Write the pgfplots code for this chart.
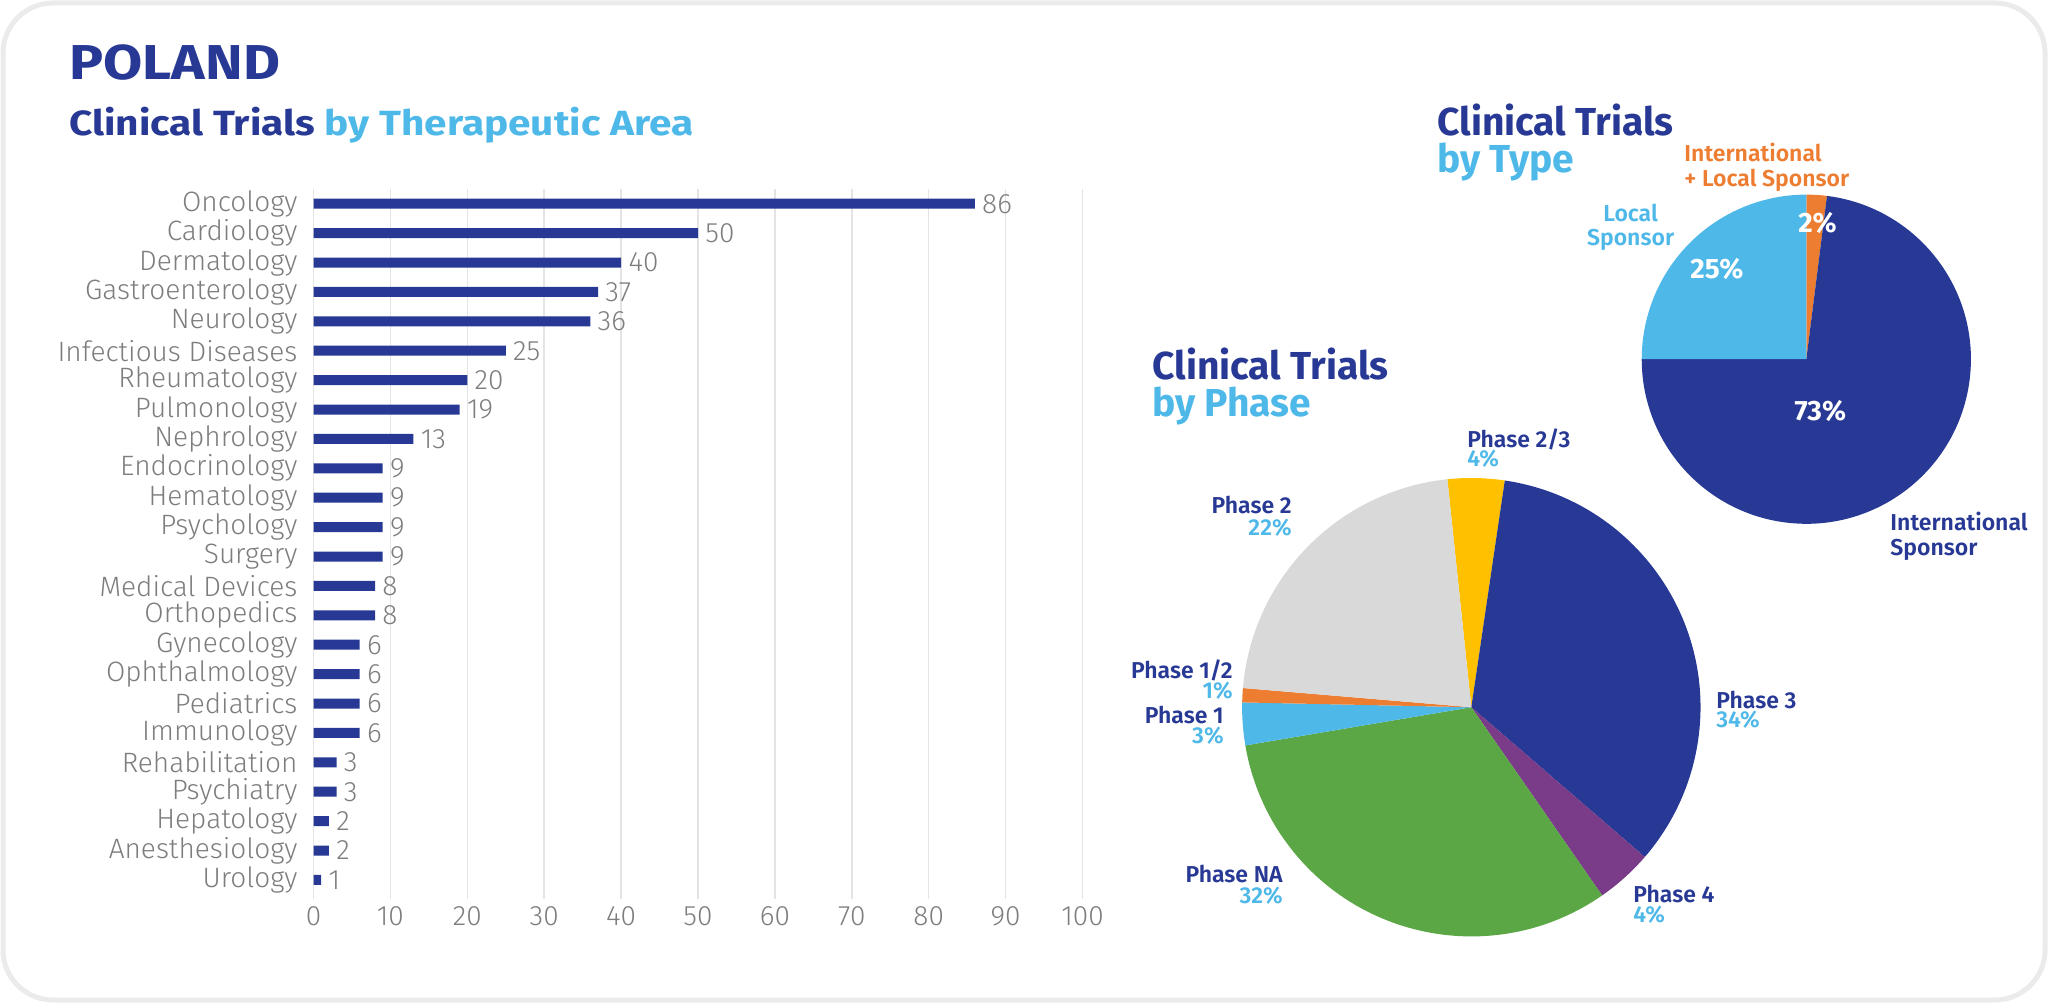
\documentclass[border=0pt]{standalone}
\usepackage{pgfplots}
\usepackage{pgfplotstable}
\pgfplotsset{compat=1.18}
\usepackage{fontspec}
\setmainfont{Fira Sans}
\newfontfamily\lightfont{Fira Sans Light}
\newfontfamily\semibold{Fira Sans SemiBold}
\newfontfamily\titlefont[FakeStretch=1.16]{Fira Sans Bold}
\definecolor{cblue}{RGB}{39,57,148}
\definecolor{clblue}{RGB}{78,184,232}
\definecolor{corange}{RGB}{237,125,49}
\definecolor{cyellow}{RGB}{255,192,0}
\definecolor{cgray}{RGB}{217,217,217}
\definecolor{cgreen}{RGB}{92,167,69}
\definecolor{cpurple}{RGB}{122,59,136}
\definecolor{labgray}{RGB}{125,125,125}
\definecolor{gridgray}{RGB}{228,228,228}
\definecolor{bordergray}{RGB}{235,235,235}

\pgfplotstableread{
value cat
86 23
50 22
40 21
37 20
36 19
25 18
20 17
19 16
13 15
9 14
9 13
9 12
9 11
8 10
8 9
6 8
6 7
6 6
6 5
3 4
3 3
2 2
2 1
1 0
}\areadata

\pgfplotstableread{
name pct color
P23 4 cyellow
P3 34 cblue
P4 4 cpurple
PNA 32 cgreen
P1 3 clblue
P12 1 corange
P2 22 cgray
}\phasedata

\pgfplotstableread{
name pct color
IntLocal 2 corange
Int 73 cblue
Local 25 clblue
}\typedata

\newcommand\piefont{\semibold\fontsize{11.5}{12}\selectfont}
\newcommand\whitefont{\bfseries\fontsize{14}{14}\selectfont}

\begin{document}
\begin{tikzpicture}[x=0.5pt,y=0.5pt]
\path[use as bounding box] (0,0) rectangle (2048,1003);
\draw[bordergray, line width=2.5pt, rounded corners=25pt] (3,3) rectangle (2045,1000);

% Titles
\node[anchor=base west, inner sep=0pt, text=cblue] at (69,923) {\titlefont\fontsize{24.5}{28}\selectfont POLAND};
\node[anchor=base west, inner sep=0pt] at (69,867) {\titlefont\fontsize{17.5}{20}\selectfont \textcolor{cblue}{Clinical Trials} \textcolor{clblue}{by Therapeutic Area}};
\node[anchor=base west, inner sep=0pt, text=cblue] at (1437,867) {\bfseries\fontsize{19.5}{22}\selectfont Clinical Trials};
\node[anchor=base west, inner sep=0pt, text=clblue] at (1437,830) {\bfseries\fontsize{19.5}{22}\selectfont by Type};
\node[anchor=base west, inner sep=0pt, text=cblue] at (1152,624) {\bfseries\fontsize{19.5}{22}\selectfont Clinical Trials};
\node[anchor=base west, inner sep=0pt, text=clblue] at (1152,587) {\bfseries\fontsize{19.5}{22}\selectfont by Phase};

% Bar chart
\begin{axis}[
  at={(156.75pt,52pt)}, anchor=south west,
  scale only axis, width=384.5pt, height=355pt,
  xbar, bar width=5pt,
  xmin=0, xmax=100, ymin=-0.65, ymax=23.5,
  xtick={0,10,...,100},
  ytick={0,...,23},
  yticklabels={Urology, Anesthesiology, Hepatology, Psychiatry, Rehabilitation, Immunology, Pediatrics, Ophthalmology, Gynecology, Orthopedics, Medical Devices, Surgery, Psychology, Hematology, Endocrinology, Nephrology, Pulmonology, Rheumatology, Infectious Diseases, Neurology, Gastroenterology, Dermatology, Cardiology, Oncology},
  xmajorgrids, major grid style={draw=gridgray, line width=0.75pt},
  axis line style={draw=none},
  major tick length=0pt,
  tick label style={font=\lightfont\fontsize{14}{14}\selectfont, text=labgray},
  yticklabel style={xshift=-4.5pt},
  /pgf/number format/assume math mode=true,
  nodes near coords, nodes near coords align={horizontal},
  every node near coord/.append style={font=\lightfont\fontsize{14}{14}\selectfont, text=labgray, inner sep=3.5pt},
  clip=false,
]
\addplot[fill=cblue, draw=none] table[x=value, y=cat] {\areadata};
\end{axis}

% Phase pie
\begin{axis}[
  at={(735.65pt,147.9pt)}, anchor=origin,
  x=114.6pt, y=114.6pt,
  xmin=-1, xmax=1, ymin=-1, ymax=1,
  hide axis, clip=false,
]
\xdef\ang{96}
\pgfplotsforeachungrouped \i in {0,...,6}{%
  \pgfplotstablegetelem{\i}{pct}\of\phasedata \let\pct\pgfplotsretval
  \pgfplotstablegetelem{\i}{color}\of\phasedata \let\col\pgfplotsretval
  \pgfmathsetmacro\angb{\ang-3.6*\pct}%
  \edef\next{\noexpand\fill[\col] (axis cs:0,0) -- (axis cs:{cos(\ang)},{sin(\ang)}) arc[start angle=\ang, end angle=\angb, radius=114.6pt] -- cycle;}%
  \next
  \xdef\ang{\angb}%
}
\end{axis}

% Type pie
\begin{axis}[
  at={(903.15pt,321.9pt)}, anchor=origin,
  x=82.3pt, y=82.3pt,
  xmin=-1, xmax=1, ymin=-1, ymax=1,
  hide axis, clip=false,
]
\xdef\ang{90}
\pgfplotsforeachungrouped \i in {0,...,2}{%
  \pgfplotstablegetelem{\i}{pct}\of\typedata \let\pct\pgfplotsretval
  \pgfplotstablegetelem{\i}{color}\of\typedata \let\col\pgfplotsretval
  \pgfmathsetmacro\angb{\ang-3.6*\pct}%
  \edef\next{\noexpand\fill[\col] (axis cs:0,0) -- (axis cs:{cos(\ang)},{sin(\ang)}) arc[start angle=\ang, end angle=\angb, radius=82.3pt] -- cycle;}%
  \next
  \xdef\ang{\angb}%
}
\node[inner sep=0pt, text=white, font=\whitefont] at (axis cs:0.068,0.83) {2\%};
\node[inner sep=0pt, text=white, font=\whitefont] at (axis cs:-0.544,0.548) {25\%};
\node[inner sep=0pt, text=white, font=\whitefont] at (axis cs:0.085,-0.313) {73\%};
\end{axis}

% Phase labels
\begin{scope}[every node/.style={inner sep=0pt, font=\piefont}]
\node[anchor=base west, text=cblue] at (1467,556) {Phase 2/3};
\node[anchor=base west, text=clblue] at (1467,537) {4\%};
\node[anchor=base east, text=cblue] at (1292,490) {Phase 2};
\node[anchor=base east, text=clblue] at (1292,468) {22\%};
\node[anchor=base east, text=cblue] at (1233,325) {Phase 1/2};
\node[anchor=base east, text=clblue] at (1233,305) {1\%};
\node[anchor=base east, text=cblue] at (1224,280) {Phase 1};
\node[anchor=base east, text=clblue] at (1224,260) {3\%};
\node[anchor=base west, text=cblue] at (1716,295) {Phase 3};
\node[anchor=base west, text=clblue] at (1716,276) {34\%};
\node[anchor=base east, text=cblue] at (1283,121) {Phase NA};
\node[anchor=base east, text=clblue] at (1283,100) {32\%};
\node[anchor=base west, text=cblue] at (1633,101) {Phase 4};
\node[anchor=base west, text=clblue] at (1633,81) {4\%};
% Type labels
\node[anchor=base west, text=corange] at (1684,841) {International};
\node[anchor=base west, text=corange] at (1684,816) {+ Local Sponsor};
\node[anchor=base, text=clblue] at (1630.6,781) {Local};
\node[anchor=base, text=clblue] at (1630.6,757) {Sponsor};
\node[anchor=base west, text=cblue] at (1890,473) {International};
\node[anchor=base west, text=cblue] at (1890,448) {Sponsor};
\end{scope}
\end{tikzpicture}
\end{document}
